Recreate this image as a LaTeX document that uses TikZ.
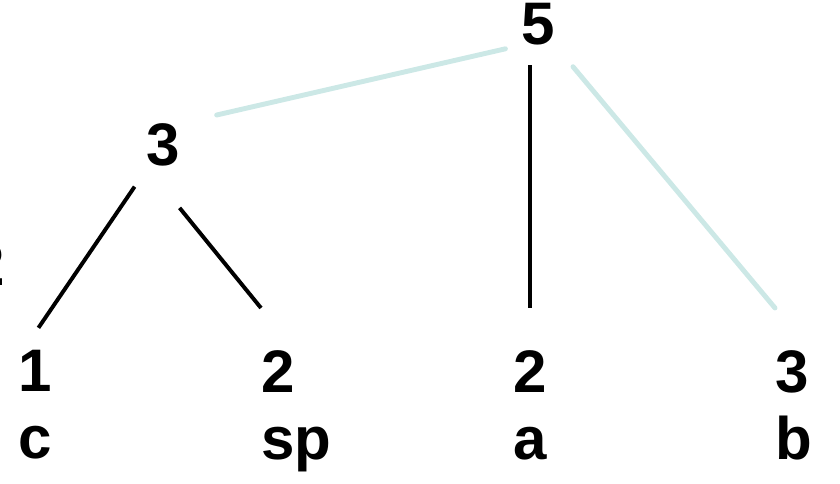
\documentclass[tikz,border=0pt]{standalone}
\usepackage{fontspec}
\setmainfont{Liberation Sans}
\usetikzlibrary{positioning}
\definecolor{mypale}{RGB}{204,232,230}
\tikzstyle{num}=[font=\fontsize{42.7}{47.7}\selectfont\bfseries,inner sep=0pt]
\tikzstyle{leaf}=[num,align=left,anchor=north west,inner xsep=0pt,inner ysep=1.05cm]
\tikzstyle{dark}=[draw=black,line width=2.8pt]
\tikzstyle{pale}=[draw=mypale,line width=3.5pt,line cap=round]

\begin{document}
\begin{tikzpicture}[x=0.025cm,y=-0.025cm]
\useasboundingbox (0,0) rectangle (840,484);
% counts
\node [num] (five) at (538,24) {5};
\node [num] (three) at (163,145) {3};
\node [num] (cut) at (-12,265) {2};
% leaves
\node [leaf] (c) at (18,308) {1\\c};
\node [leaf] (sp) at (261,308) {2\\sp};
\node [leaf] (a) at (513,308) {2\\a};
\node [leaf] (b) at (775,308) {3\\b};
% edges
\draw [pale,shorten <=0.4cm,shorten >=0.94cm] (five.south west) -- (three.north east);
\draw [dark,shorten <=0.5cm] (a.north |- five.south) -- (a.north);
\draw [pale,shorten <=0.7cm] (five.south east) -- (b.north west);
\draw [dark,shorten <=1.26cm,shorten >=-0.6cm] (three.center) -- (c.north east);
\draw [dark,shorten <=1.33cm] (three.south west) -- (sp.north west);
\end{tikzpicture}
\end{document}
